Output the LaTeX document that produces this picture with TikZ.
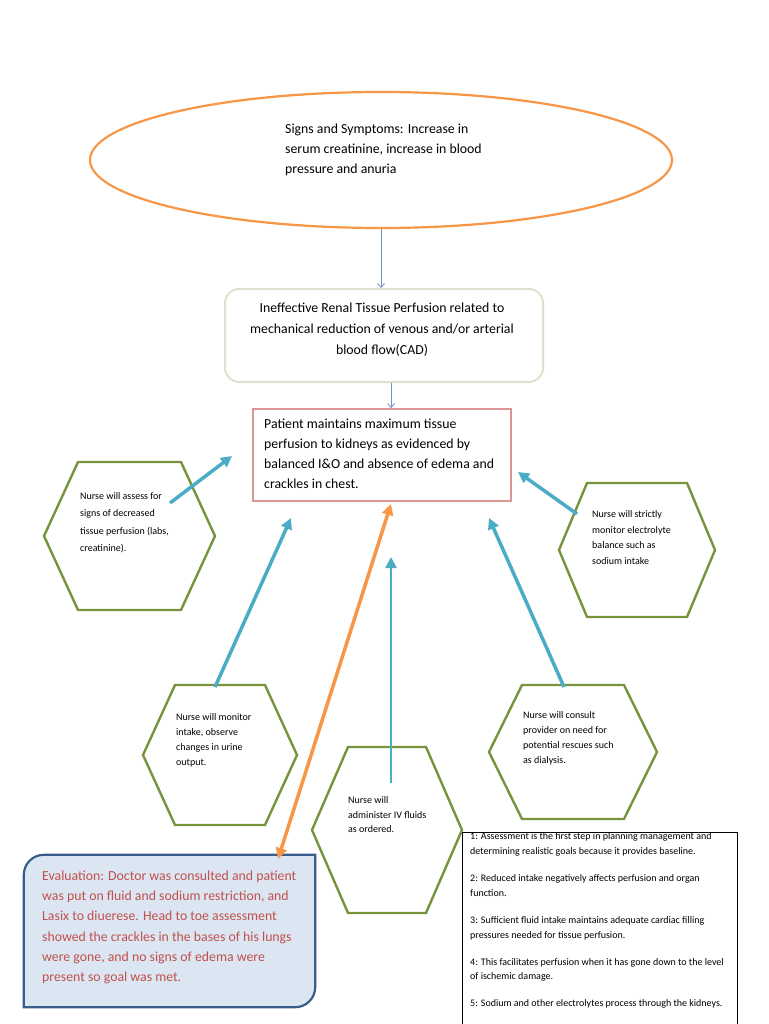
\documentclass[tikz,border=0pt]{standalone}
\usepackage{fontspec}
\setmainfont{Carlito}
\usetikzlibrary{shapes.geometric,arrows.meta,calc}
\definecolor{orng}{HTML}{F79646}
\definecolor{thinblue}{HTML}{6F93C8}
\definecolor{aqua}{HTML}{4BACC6}
\definecolor{hexgreen}{HTML}{77933C}
\definecolor{pinkb}{HTML}{D99694}
\definecolor{beigeb}{HTML}{E3DFD0}
\definecolor{evalfill}{HTML}{DCE6F2}
\definecolor{evalline}{HTML}{385D8A}
\definecolor{evaltext}{HTML}{C0504D}
\newcommand\hexshape[6]{%
  \coordinate (#1) at (#2,#3);
  \draw[hexline] ($(#1)+(-#4,0)$) -- ($(#1)+(-#4+#6,-#5)$) -- ($(#1)+(#4-#6,-#5)$)
    -- ($(#1)+(#4,0)$) -- ($(#1)+(#4-#6,#5)$) -- ($(#1)+(-#4+#6,#5)$) -- cycle;}
\begin{document}
\begin{tikzpicture}[x=1pt,y=-1pt,
  txt/.style={inner sep=0pt, anchor=north west, align=left},
  big/.style={font=\fontsize{13.8}{20}\selectfont},
  hexline/.style={draw=hexgreen, line width=2.4pt, line join=miter},
  thinarrow/.style={draw=thinblue, line width=0.8pt, -{Straight Barb[length=4pt,width=7pt]}},
  fatarrow/.style={draw=aqua, line width=3.5pt, -{Triangle[length=11pt,width=11pt]}},
  orarrow/.style={draw=orng, line width=3.5pt, {Triangle[length=11pt,width=11pt]}-{Triangle[length=11pt,width=11pt]}},
  evalbox/.style={draw=evalline, fill=evalfill, line width=2.2pt}
]
\useasboundingbox (0,0) rectangle (768,1024);
\fill[white] (0,0) rectangle (768,1024);

% ellipse
\node[draw=orng, line width=2.2pt, ellipse, minimum width=582, minimum height=136] (sym) at (381,160) {};
\node[txt, big] (symtxt) at (285,123.3) {Signs and Symptoms: Increase in\\serum creatinine, increase in blood\\pressure and anuria};

% diagnosis box
\node[draw=beigeb, line width=2pt, rounded corners=14pt, minimum width=318, minimum height=93] (diag) at (384,335.5) {};
\node[inner sep=0pt, anchor=north, align=center, font=\fontsize{13.8}{20.8}\selectfont] (diagtxt) at (382,303) {Ineffective Renal Tissue Perfusion related to\\mechanical reduction of venous and/or arterial\\blood flow(CAD)};

% goal box
\node[draw=pinkb, line width=1.8pt, minimum width=258, minimum height=92] (goal) at (382,455) {};
\node[txt, big] (goaltxt) at (264,419) {Patient maintains maximum tissue\\perfusion to kidneys as evidenced by\\balanced I\&O and absence of edema and\\crackles in chest.};

% hexagons
\hexshape{h1}{129.5}{536}{85.5}{74}{34}
\hexshape{h2}{637}{550}{78}{67}{28}
\hexshape{h3}{220}{755}{77}{70}{32}
\hexshape{h4}{387}{830}{75}{83}{36}
\hexshape{h5}{573}{752}{84}{67}{33}
\node[txt, font=\fontsize{10}{17.3}\selectfont] (t1) at (80,492.5) {Nurse will assess for\\signs of decreased\\tissue perfusion (labs,\\creatinine).};
\node[txt, font=\fontsize{10}{15.5}\selectfont] (t2) at (592,510.5) {Nurse will strictly\\monitor electrolyte\\balance such as\\sodium intake};
\node[txt, font=\fontsize{10}{15}\selectfont] (t3) at (176,713.5) {Nurse will monitor\\intake, observe\\changes in urine\\output.};
\node[txt, font=\fontsize{10}{14.5}\selectfont] (t4) at (348,796.5) {Nurse will\\administer IV fluids\\as ordered.};
\node[txt, font=\fontsize{10}{15}\selectfont] (t5) at (523,711.5) {Nurse will consult\\provider on need for\\potential rescues such\\as dialysis.};

% notes box
\node[draw=black, line width=0.8pt, minimum width=275, minimum height=210, anchor=north west, inner sep=0pt] (notes) at (462,832) {};
\node[txt, font=\fontsize{10}{14.8}\selectfont] (notestxt) at (470,832.5) {1: Assessment is the first step in planning management and\\determining realistic goals because it provides baseline.\\[12.2pt]2: Reduced intake negatively affects perfusion and organ\\function.\\[12.2pt]3: Sufficient fluid intake maintains adequate cardiac filling\\pressures needed for tissue perfusion.\\[12.2pt]4: This facilitates perfusion when it has gone down to the level\\of ischemic damage.\\[12.2pt]5: Sodium and other electrolytes process through the kidneys.};

% evaluation box
\node[minimum width=291, minimum height=152, inner sep=0pt] (eval) at (169.5,931) {};
\draw[evalbox] (eval.south west) -- ($(eval.north west)+(0,20)$) arc(180:270:20) -- (eval.north east)
  -- ($(eval.south east)+(0,-20)$) arc(0:90:20) -- cycle;
\node[txt, font=\fontsize{13.8}{20.2}\selectfont, text=evaltext] (evaltxt) at (42,870.8) {Evaluation: Doctor was consulted and patient\\was put on fluid and sodium restriction, and\\Lasix to diuerese. Head to toe assessment\\showed the crackles in the bases of his lungs\\were gone, and no signs of edema were\\present so goal was met.};

% thin arrows
\draw[thinarrow] (sym.south) -- (sym.south |- diag.north);
\coordinate (d2) at ($(diag.south)+(7,0)$);
\draw[thinarrow] (d2) -- (d2 |- goal.north);

% thick arrows
\coordinate (a1s) at (170,503); \coordinate (a1e) at (232,456);
\coordinate (a2s) at (577,514); \coordinate (a2e) at (518,472);
\coordinate (a3s) at (215,687); \coordinate (a3e) at (291,518);
\coordinate (a4s) at (391,783); \coordinate (a4e) at (391,557);
\coordinate (a5s) at (564,687); \coordinate (a5e) at (489,518);
\coordinate (o1) at (278,859); \coordinate (o2) at (391,504);
\draw[fatarrow] (a1s) -- (a1e);
\draw[fatarrow] (a2s) -- (a2e);
\draw[fatarrow] (a3s) -- (a3e);
\draw[fatarrow, line width=2.5pt] (a4s) -- (a4e);
\draw[fatarrow] (a5s) -- (a5e);
\draw[orarrow] (o1) -- (o2);
\end{tikzpicture}
\end{document}
